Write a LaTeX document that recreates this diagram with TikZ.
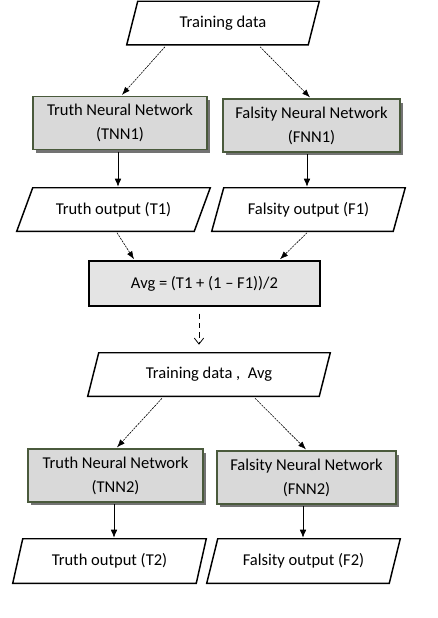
\documentclass[tikz,border=0pt]{standalone}
\usepackage{fontspec}
\setmainfont{Carlito}
\usetikzlibrary{arrows.meta,calc,shadows}
\definecolor{boxedge}{HTML}{4A5A3C}
\definecolor{boxfill}{HTML}{D9D9D9}
\definecolor{avgfill}{HTML}{E4E4E4}
\newcommand\parashape[2]{%
  \draw[line width=1.1pt, line join=miter]
    ($(#1.south west)+(-#2,0)$) -- ($(#1.north west)+(#2,0)$) --
    ($(#1.north east)+(#2,0)$) -- ($(#1.south east)+(-#2,0)$) -- cycle;}
\begin{document}
\begin{tikzpicture}[x=0.75pt,y=-0.75pt,
  font=\fontsize{12.4}{18}\selectfont,
  io/.style={rectangle, minimum height=32.25pt, inner sep=0pt, align=center},
  nn/.style={rectangle, draw=boxedge, line width=1.2pt, fill=boxfill,
    drop shadow={shadow xshift=2.6pt, shadow yshift=-2.6pt, fill=black!55, opacity=1},
    minimum height=39.5pt, inner sep=0pt, align=center},
  avgbox/.style={rectangle, draw, line width=1.1pt, fill=avgfill,
    minimum width=173.25pt, minimum height=33.75pt, inner sep=0pt},
  thinarrow/.style={draw, line width=0.45pt, dash pattern=on 1.6pt off 0.7pt,
    -{Latex[length=6pt,width=4.5pt]}},
  solidarrow/.style={draw, line width=0.6pt, -{Latex[length=6pt,width=5pt]}},
  dasharrow/.style={draw, line width=0.6pt, dash pattern=on 4pt off 3pt,
    -{Straight Barb[length=4.5pt,width=7pt]}}
]
\useasboundingbox (0,0) rectangle (438,618);

% nodes
\node[io, minimum width=135.75pt] (td) at (223,23) {Training data};
\parashape{td}{5.5}
\node[nn, minimum width=130.5pt] (tnn1) at (120,123) {Truth Neural Network\\(TNN1)};
\node[nn, minimum width=132.75pt] (fnn1) at (311.5,125.5) {Falsity Neural Network\\(FNN1)};
\node[io, minimum width=132.75pt] (t1) at (113.5,209.5) {Truth output (T1)};
\parashape{t1}{8}
\node[io, minimum width=135.75pt] (f1) at (308.5,209.5) {Falsity output (F1)};
\parashape{f1}{6}
\node[avgbox] (avg) at (204.5,283.5) {Avg = (T1 + (1 -- F1))/2};
\node[io, minimum width=173.25pt] (tda) at (209,374.5) {Training data ,\ \ Avg};
\parashape{tda}{5.5}
\node[nn, minimum width=131.25pt] (tnn2) at (115.5,475.5) {Truth Neural Network\\(TNN2)};
\node[nn, minimum width=134.25pt] (fnn2) at (306.5,477.5) {Falsity Neural Network\\(FNN2)};
\node[io, minimum width=137.25pt, minimum height=33pt] (t2) at (109.5,561) {Truth output (T2)};
\parashape{t2}{5}
\node[io, minimum width=136.5pt, minimum height=33pt] (f2) at (303.5,561) {Falsity output (F2)};
\parashape{f2}{5.5}

% connectors
\draw[thinarrow] ($(td.south)+(-58,2)$) -- ($(tnn1.north)+(2,-1)$);
\draw[thinarrow] ($(td.south)+(37,2)$) -- ($(fnn1.north)+(-1.5,-1)$);
\draw[solidarrow] ($(tnn1.south)+(-2,1.5)$) -- ($(t1.north)+(4.5,-1)$);
\draw[solidarrow] ($(fnn1.south)+(-4.5,1.5)$) -- ($(f1.north)+(-1.5,-1)$);
\draw[thinarrow] ($(t1.south)+(3.5,1.5)$) -- ($(avg.north)+(-70.5,-1)$);
\draw[thinarrow] ($(f1.south)+(-1.5,1.5)$) -- ($(avg.north)+(75.5,-1)$);
\draw[dasharrow] ($(avg.south)+(-5.5,7)$) -- ($(tda.north)+(-10,-8)$);
\draw[thinarrow] ($(tda.south)+(-47,2)$) -- ($(tnn2.north)+(1.5,-1)$);
\draw[thinarrow] ($(tda.south)+(46,2)$) -- ($(fnn2.north)+(-0.5,-1)$);
\draw[solidarrow] ($(tnn2.south)+(-1.5,1.5)$) -- ($(t2.north)+(4.5,-1)$);
\draw[solidarrow] ($(fnn2.south)+(-3.5,1.5)$) -- ($(f2.north)+(-0.5,-1)$);
\end{tikzpicture}
\end{document}
